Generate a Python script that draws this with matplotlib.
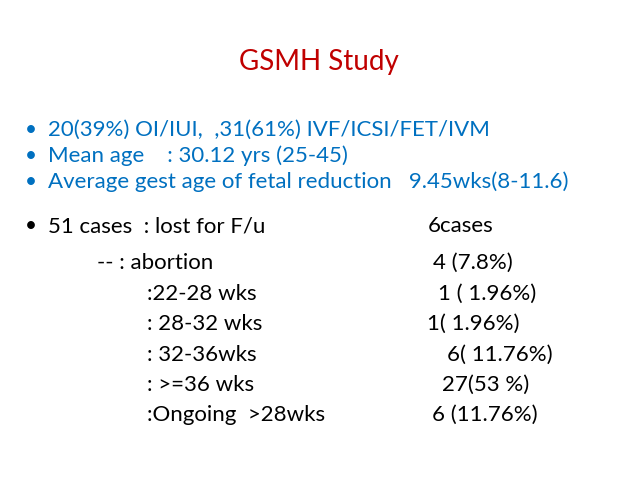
import matplotlib
matplotlib.use("Agg")
import matplotlib.pyplot as plt

title = "GSMH Study"
blue_lines = ["20(39%) OI/IUI,  ,31(61%) IVF/ICSI/FET/IVM",
              "Mean age    : 30.12 yrs (25-45)",
              "Average gest age of fetal reduction   9.45wks(8-11.6)"]
labels = ["51 cases  : lost for F/u", "-- : abortion", ":22-28 wks", ": 28-32 wks",
          ": 32-36wks", ": >=36 wks", ":Ongoing  >28wks"]
values = ["6cases", "4 (7.8%)", "1 ( 1.96%)", "1( 1.96%)", "6( 11.76%)", "27(53 %)", "6 (11.76%)"]

W, H = 638, 478
fig = plt.figure(figsize=(W/100, H/100), dpi=100)
fam = ["Lato", "DejaVu Sans"]
def t(x, y, s, **kw):
    fig.text(x/W, 1-y/H, s, va="center", family=fam, **kw)

t(319, 62, title, ha="center", fontsize=20, color="#C00000")
blue = "#0070C0"
fs = 16
for i, s in enumerate(blue_lines):
    y = 130 + i*26
    t(25, y, "•", fontsize=15, color=blue)
    t(48, y, s, fontsize=fs, color=blue)

lx = [48, 97, 147, 147, 147, 147, 147]
vx = [428, 433, 438, 427, 447, 442, 432]
ys = [226, 263, 294, 324, 355, 385, 415]
t(25, ys[0], "•", fontsize=15, color="black")
for s, v, x, x2, y in zip(labels, values, lx, vx, ys):
    t(x, y, s, fontsize=fs, color="black")
    t(x2, y, v, fontsize=fs, color="black")

fig.savefig("out.png", dpi=100)
